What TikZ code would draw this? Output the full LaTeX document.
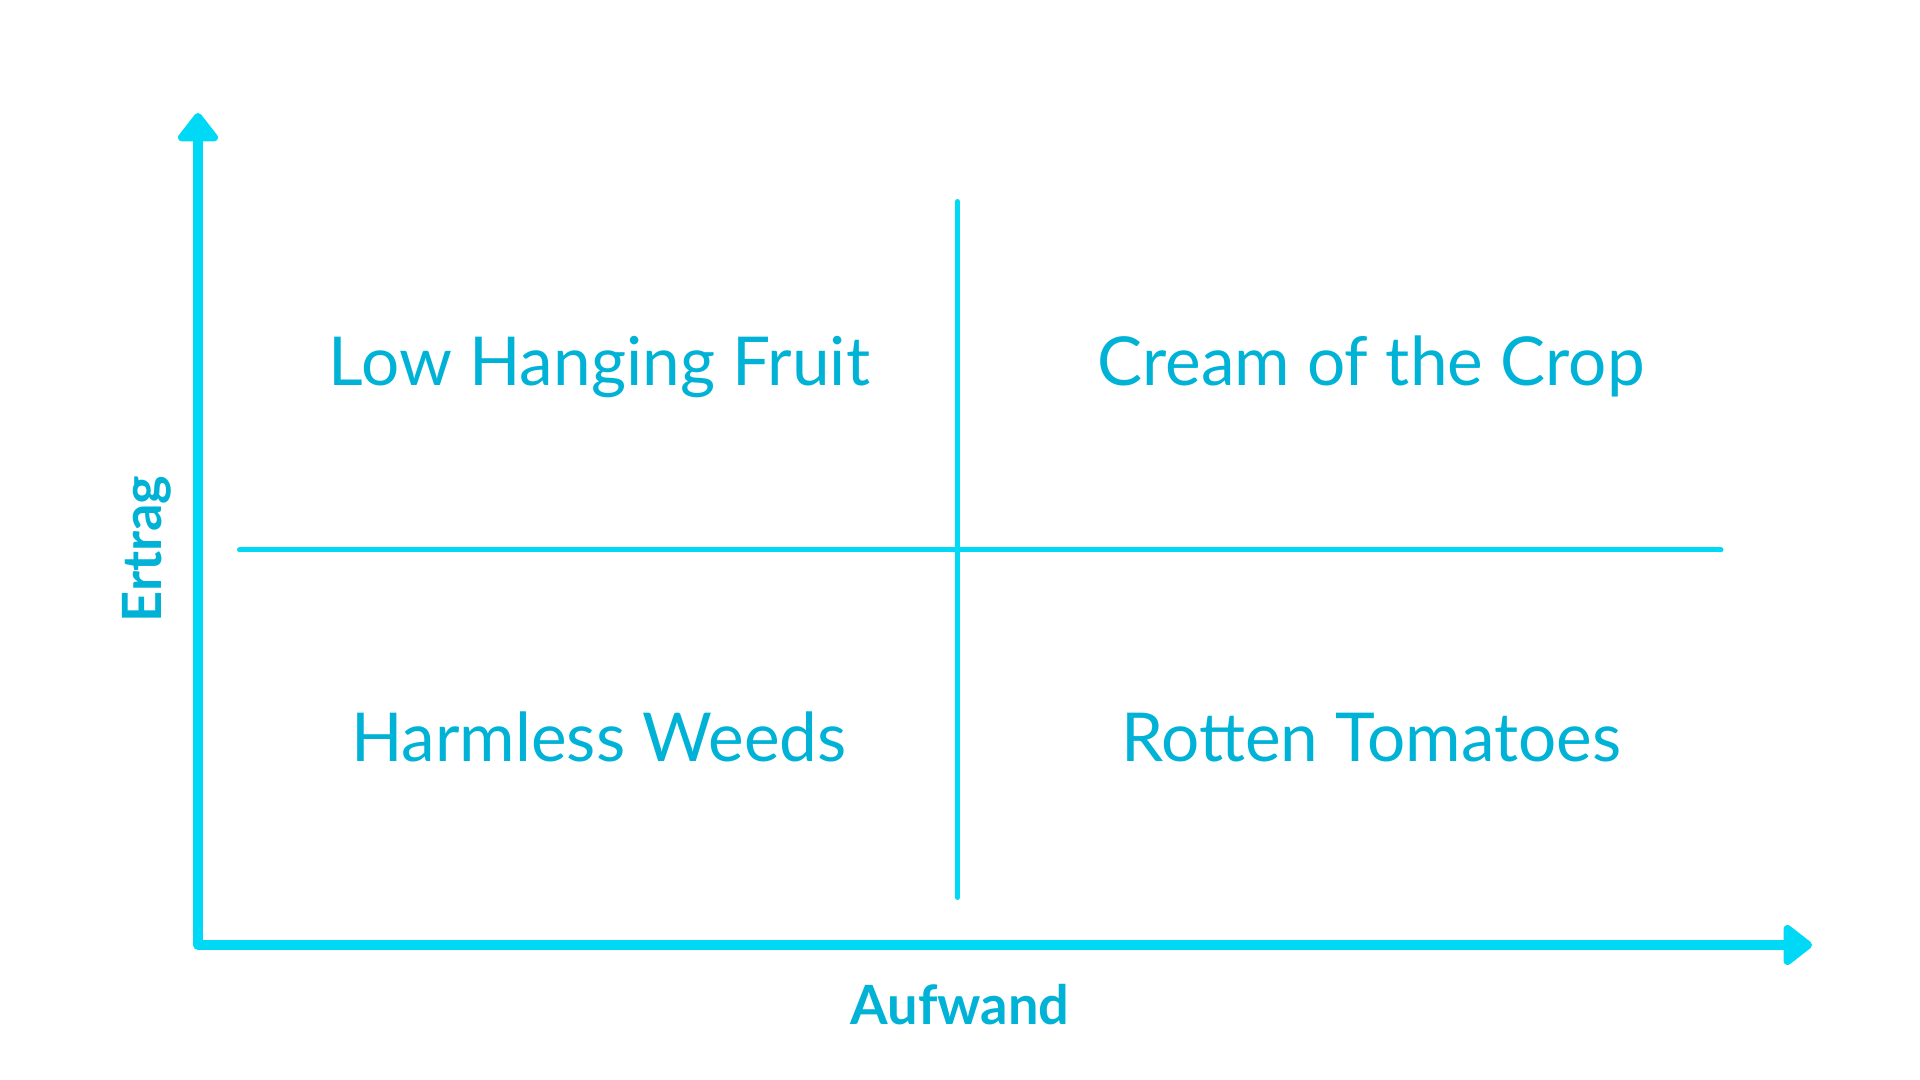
\documentclass[tikz,border=0pt]{standalone}
\usepackage{fontspec}
\setmainfont{Lato}
\usetikzlibrary{arrows.meta}

\definecolor{linecyan}{HTML}{00D9F5}
\definecolor{textcyan}{HTML}{00B3D6}

\begin{document}
\begin{tikzpicture}[
    axis/.style={linecyan, line width=0.2cm, line join=round,
      {Triangle[round, length=0.62cm, width=0.92cm]}-{Triangle[round, length=0.62cm, width=0.92cm]}},
    divider/.style={linecyan, line width=0.1cm, line cap=round},
    quadrant/.style={textcyan, anchor=base, font=\fontsize{38.4}{46}\selectfont},
    axislabel/.style={textcyan, anchor=base, font=\fontsize{30.8}{37}\selectfont\bfseries}]
  \useasboundingbox (0, 0) rectangle (38.4, 21.6);

  % Achsen
  \coordinate (origin) at (3.96, 2.70);
  \coordinate (ytip) at (3.96, 19.34);
  \coordinate (xtip) at (36.24, 2.70);
  \draw[axis] (ytip) -- (origin) -- (xtip);

  \node[axislabel] (aufwand) at (19.20, 1.11) {Aufwand};
  \node[axislabel, rotate=90] (ertrag) at (3.234, 10.62) {Ertrag};

  % Trennlinien der Matrix
  \coordinate (vtop) at (19.15, 17.57);
  \coordinate (vbottom) at (19.15, 3.65);
  \coordinate (hleft) at (4.79, 10.60);
  \coordinate (hright) at (34.42, 10.60);
  \draw[divider] (vtop) -- (vbottom);
  \draw[divider] (hleft) -- (hright);

  % Quadranten
  \node[quadrant] (lowfruit) at (11.99, 13.89) {Low Hanging Fruit};
  \node[quadrant] (cream) at (27.42, 13.89) {Cream of the Crop};
  \node[quadrant] (weeds) at (11.98, 6.37) {Harmless Weeds};
  \node[quadrant] (tomatoes) at (27.43, 6.37) {Rotten Tomatoes};
\end{tikzpicture}
\end{document}
